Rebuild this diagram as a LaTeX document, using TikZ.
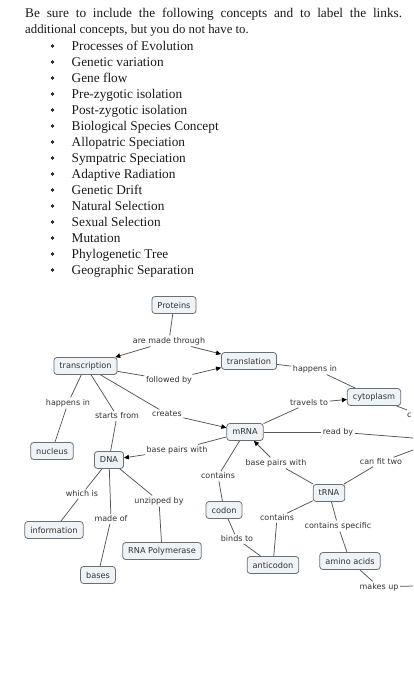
\documentclass[tikz,border=0pt]{standalone}
\usepackage{fontspec}
\setmainfont{Liberation Serif}
\newfontfamily\mapfont{DejaVu Sans}
\usetikzlibrary{positioning, arrows.meta}

\definecolor{boxfill}{HTML}{EEF3F7}
\definecolor{boxgray}{HTML}{687077}
\definecolor{linegray}{HTML}{555555}
\definecolor{textgray}{HTML}{333333}

\begin{document}
\begin{tikzpicture}[
            x=1pt, y=-1pt,
            concept/.style={rectangle, rounded corners=3pt, draw=boxgray, fill=boxfill, line width=0.8pt,
                font=\mapfont\fontsize{8.2}{9}\selectfont, text=textgray, inner xsep=5.5pt, minimum height=17pt},
            linkword/.style={font=\mapfont\fontsize{8}{9}\selectfont, text=textgray, inner sep=1.5pt},
            link/.style={draw=linegray, line width=0.75pt},
            toward/.style={link, -{Triangle[length=5pt, width=4.5pt, color=black]}},
            prose/.style={font=\fontsize{13.3}{15}\selectfont, text=black!90, inner sep=0pt, anchor=base west}
        ]
        \useasboundingbox (0,0) rectangle (413,700);

        % instructions (first line is justified)
        \node[prose] (intro) at (25,17.3) {\makebox[377pt][s]{Be sure to include the following concepts and to label the links.}};
        \node[prose, font=\fontsize{12.8}{15}\selectfont] (introb) at (25,33.3) {additional concepts, but you do not have to.};
        \foreach \topic [count=\i] in {Processes of Evolution, Genetic variation, Gene flow,
                Pre-zygotic isolation, Post-zygotic isolation, Biological Species Concept,
                Allopatric Speciation, Sympatric Speciation, Adaptive Radiation, Genetic Drift,
                Natural Selection, Sexual Selection, Mutation, Phylogenetic Tree, Geographic Separation} {
            \fill[black!85] (52.5,30+16*\i) circle (1.9);
            \node[prose] (topic\i) at (71.5,34.6+16*\i) {\topic};
        }

        % concepts
        \node[concept] (proteins) at (174,305) {Proteins};
        \node[concept] (transcription) at (85.5,366) {transcription};
        \node[concept] (translation) at (249,361) {translation};
        \node[concept] (cytoplasm) at (374,397) {cytoplasm};
        \node[concept] (nucleus) at (52,451) {nucleus};
        \node[concept] (dna) at (109,460) {DNA};
        \node[concept] (mrna) at (245,432) {mRNA};
        \node[concept] (trna) at (329,493) {tRNA};
        \node[concept] (codon) at (224,510) {codon};
        \node[concept] (information) at (54,530) {information};
        \node[concept] (polymerase) at (162,551) {RNA Polymerase};
        \node[concept] (anticodon) at (273,565) {anticodon};
        \node[concept] (aminoacids) at (350,561) {amino acids};
        \node[concept] (bases) at (98,575) {bases};

        % linking words
        \node[linkword] (madethrough) at (169,341) {are made through};
        \node[linkword] (followedby) at (169,380) {followed by};
        \node[linkword] (happensnuc) at (68,403) {happens in};
        \node[linkword] (startsfrom) at (117,416) {starts from};
        \node[linkword] (creates) at (167,414) {creates};
        \node[linkword] (happenscyto) at (315,369) {happens in};
        \node[linkword] (travelsto) at (309,403) {travels to};
        \node[linkword] (readby) at (338,432) {read by};
        \node[linkword] (pairsdna) at (177,450) {base pairs with};
        \node[linkword] (pairsmrna) at (276,463) {base pairs with};
        \node[linkword] (fittwo) at (381,462) {can fit two};
        \node[linkword] (containscodon) at (218,476) {contains};
        \node[linkword] (whichis) at (82,494) {which is};
        \node[linkword] (unzipped) at (159,501) {unzipped by};
        \node[linkword] (madeof) at (111,519) {made of};
        \node[linkword] (containsanti) at (277,518) {contains};
        \node[linkword] (specific) at (338,526) {contains specific};
        \node[linkword] (bindsto) at (237,539) {binds to};
        \node[linkword] (makesup) at (379,587) {makes up};
        \node[linkword, anchor=west, inner sep=0pt] (cutoff) at (407,415) {c};

        % links leaving the picture on the right
        \coordinate (cytoend) at (407,410);
        \coordinate (readend) at (413,438);
        \coordinate (fitend) at (413,450);
        \coordinate (makesend) at (413,586);

        \draw[link] (proteins) -- (madethrough);
        \draw[toward] (madethrough) -- (transcription);
        \draw[toward] (madethrough) -- (translation);
        \draw[link] (transcription) -- (followedby);
        \draw[toward] (followedby) -- (translation);
        \draw[link] (transcription) -- (happensnuc);
        \draw[link] (happensnuc) -- (nucleus);
        \draw[link] (transcription) -- (startsfrom);
        \draw[link] (startsfrom) -- (dna);
        \draw[link] (transcription) -- (creates);
        \draw[toward] (creates) -- (mrna);
        \draw[link] (translation) -- (happenscyto);
        \draw[link] (happenscyto) -- (cytoplasm);
        \draw[link] (mrna) -- (travelsto);
        \draw[toward] (travelsto) -- (cytoplasm);
        \draw[link] (cytoplasm) -- (cytoend);
        \draw[link] (mrna) -- (readby);
        \draw[link] (readby) -- (readend);
        \draw[link] (mrna) -- (pairsdna);
        \draw[toward] (pairsdna) -- (dna);
        \draw[link] (trna) -- (pairsmrna);
        \draw[toward] (pairsmrna) -- (mrna);
        \draw[link] (trna) -- (fittwo);
        \draw[link] (fittwo) -- (fitend);
        \draw[link] (mrna) -- (containscodon);
        \draw[link] (containscodon) -- (codon);
        \draw[link] (dna) -- (whichis);
        \draw[link] (whichis) -- (information);
        \draw[link] (dna) -- (unzipped);
        \draw[link] (unzipped) -- (polymerase);
        \draw[link] (dna) -- (madeof);
        \draw[link] (madeof) -- (bases);
        \draw[link] (trna) -- (containsanti);
        \draw[link] (containsanti) -- (anticodon);
        \draw[link] (trna) -- (specific);
        \draw[link] (specific) -- (aminoacids);
        \draw[link] (codon) -- (bindsto);
        \draw[link] (bindsto) -- (anticodon);
        \draw[link] (aminoacids) -- (makesup);
        \draw[link] (makesup) -- (makesend);

    \end{tikzpicture}
\end{document}
